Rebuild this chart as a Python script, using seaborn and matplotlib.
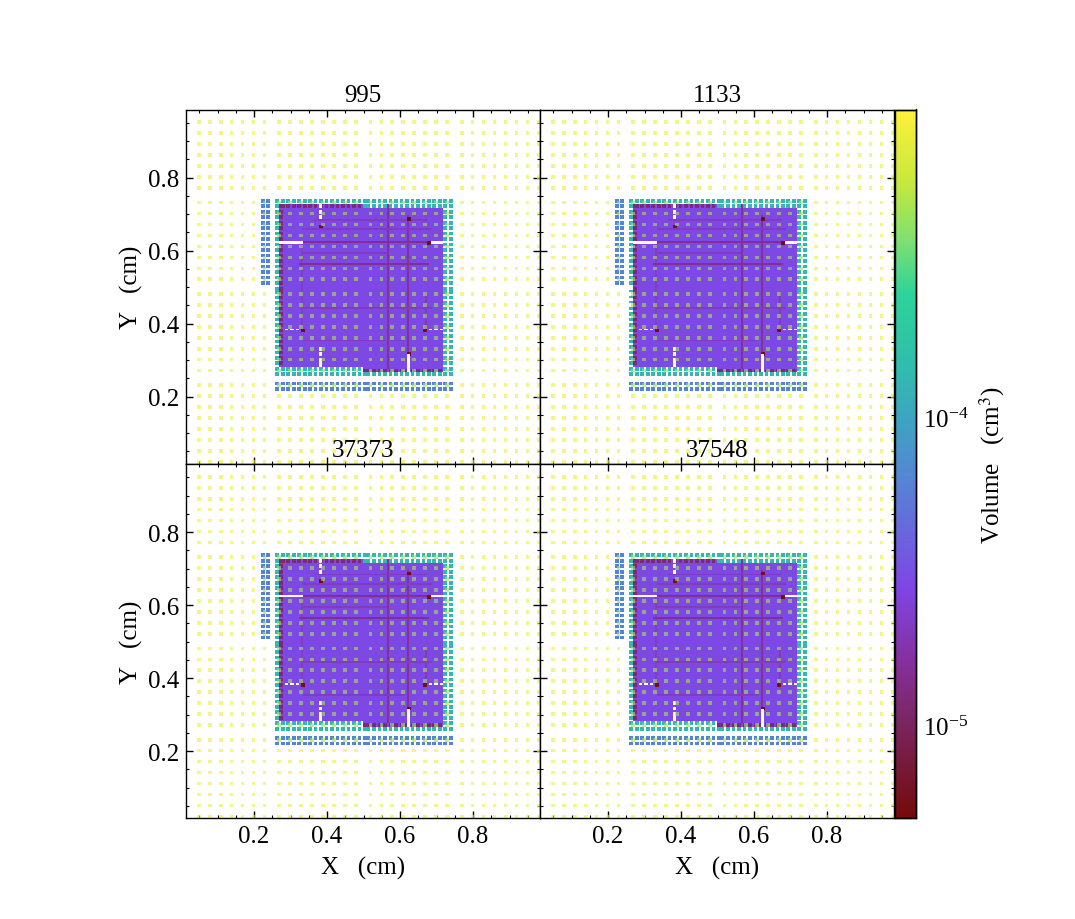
#!/usr/bin/env python3

import numpy as np
import matplotlib
matplotlib.use("Agg")
import matplotlib.pyplot as plt
from matplotlib.colors import LinearSegmentedColormap, LogNorm
from matplotlib.ticker import NullFormatter
import seaborn as sns

# positions below are in mesh units of 0.005 cm, rows counted from the top.
# the drawn grid is twice as fine so that the small cells keep their real size
n_cells = 194
sub = 2
cell_cm = 0.005
x_low = 0.0137
y_high = 0.9863

panel_titles = ["995", "1133", "37373", "37548"]
major_ticks = [0.2, 0.4, 0.6, 0.8]
minor_ticks = [0.05, 0.1, 0.15, 0.25, 0.3, 0.35, 0.45, 0.5, 0.55, 0.65, 0.7, 0.75, 0.85, 0.9, 0.95]
cbar_major = [1e-5, 1e-4]
cbar_minor = [6e-6, 7e-6, 8e-6, 9e-6, 2e-5, 3e-5, 4e-5, 5e-5, 6e-5, 7e-5, 8e-5, 9e-5,
              2e-4, 3e-4, 4e-4, 5e-4, 6e-4, 7e-4, 8e-4, 9e-4]

# large cells that show up as dots everywhere in the domain
dot_cells = [6, 12, 18, 24, 30, 36, 42, 50, 56, 62, 68, 74, 80, 86, 92,
             100, 106, 112, 118, 124, 130, 136, 142, 150, 156, 162, 168, 174, 180, 186, 192]
# refinement ring around the block
ring_cells = [49, 52, 55, 58, 61, 64, 67, 70, 73, 76, 79, 82, 85, 88, 91, 94, 97,
              99, 102, 105, 108, 111, 114, 117, 120, 123, 126, 129, 132, 135, 138, 141, 144]
ring_lines = [49, 52, 141, 144]
strip_cols = [41, 44]
strip_rows = [49, 52, 55, 58, 61, 64, 67, 70, 73, 76, 79, 82, 85, 88, 91, 94]
under_rows = [149, 152]

dot_outer = 8.5e-4
dot_inner = 4.6e-4
ring_vol = 1.3e-4
strip_vol = 6.2e-5
block_vol = 2.9e-5
edge_vol = 1.2e-5
spot_vol = 5.5e-6

# (first row, last row, first col, last col)
block_boxes = [(54, 141, 53, 141), (52, 54, 51, 97), (54, 141, 51, 53), (141, 144, 97, 141)]

# (col, first row, last row, volume)
vlines = [(110, 52, 142, 1.6e-5), (121, 58, 134, 1.6e-5), (131, 100, 121, 2e-5), (63, 72, 120, 2.2e-5)]
# (row, first col, last col, volume)
hlines = [(72, 63, 133, 1.5e-5), (84, 62, 133, 1.5e-5), (60, 70, 132, 2.1e-5), (65, 64, 135, 2.1e-5),
          (78, 64, 110, 2.1e-5), (108, 64, 135, 2.1e-5), (126, 64, 120, 2.1e-5)]
spots = [(59, 121), (72, 132), (133, 121), (120, 63), (120, 130), (63, 73)]

# white slits, same layout as the block boxes
slits_top = [(72, 73.5, 51, 64), (72, 73.5, 134, 141)]
slits_bottom = [(72, 73, 51, 64), (72, 73, 134, 141)]
slits_common = [(134, 144, 121, 122.5)]
slit_dashes = [(52, 54, 73, 74.5), (55, 57, 73, 74.5), (58, 60, 73, 74.5),
               (120, 121, 54, 56), (120, 121, 57, 59), (120, 121, 60, 62),
               (120, 121, 133, 135), (120, 121, 136, 138), (120, 121, 139, 141),
               (130, 132, 73, 74.5), (133, 135, 73, 74.5), (136, 141, 73, 74.5)]
notch_rows = [97, 100, 103, 106]

cmap_stops = [0.0, 0.133, 0.224, 0.323, 0.478, 0.567, 0.633, 0.74, 0.817, 0.90, 1.0]
cmap_colors = ["#730a0a", "#7a2560", "#8530a0", "#7f45e5", "#5585d5", "#3da5c0",
               "#30bcae", "#2cd39a", "#80e070", "#c8e83c", "#fff03c"]


def fill(cells, box, value):
    r0, r1, c0, c1 = [int(b * sub) for b in box]
    cells[r0:r1, c0:c1] = value


def square(cells, r, c, value, width=4):
    cells[r * sub:r * sub + width, c * sub:c * sub + width] = value


def build_cells(slits, notch):
    cells = np.full((n_cells * sub, n_cells * sub), np.nan)
    for c in ring_cells:
        for r in ring_lines:
            square(cells, r, c, ring_vol)
            square(cells, c, r, ring_vol)
    for c in strip_cols:
        for r in strip_rows:
            square(cells, r, c, strip_vol)
    for r in under_rows:
        for c in ring_cells:
            square(cells, r, c, strip_vol)
    for box in block_boxes:
        fill(cells, box, block_vol)
    # dark dashes along the block edge, the ring cells show between them
    for c in ring_cells:
        if 52 <= c < 96:
            square(cells, 52, c, edge_vol)
        if 97 <= c < 140:
            square(cells, 142, c, edge_vol)
    for r in ring_cells:
        if 52 <= r < 141:
            square(cells, r, 51, edge_vol)
            square(cells, r, 49, ring_vol)
    for r in notch:
        square(cells, r, 49, np.nan)
    for c, r0, r1, v in vlines:
        fill(cells, (r0, r1, c, c + 1), v)
    for r, c0, c1, v in hlines:
        fill(cells, (r, r + 1, c0, c1), v)
    for r, c in spots:
        square(cells, r, c, spot_vol)
    for box in slits + slits_common + slit_dashes:
        fill(cells, box, np.nan)
    return cells


def build_dots(cells):
    dots = np.full(cells.shape, np.nan)
    for r in dot_cells:
        for c in dot_cells:
            inside = np.isfinite(cells[r * sub:r * sub + 4, c * sub:c * sub + 4]).any()
            square(dots, r, c, dot_inner if inside else dot_outer)
    return dots


def x_index(v):
    return (v - x_low) / cell_cm * sub


def y_index(v):
    return (y_high - v) / cell_cm * sub


sns.set_style("ticks")
plt.rcParams["font.family"] = ["Liberation Serif", "DejaVu Serif"]
plt.rcParams["mathtext.fontset"] = "stix"
plt.rcParams["text.color"] = "black"
plt.rcParams["axes.labelcolor"] = "black"
plt.rcParams["xtick.labelcolor"] = "black"
plt.rcParams["ytick.labelcolor"] = "black"

W, H = 1075, 920
fig = plt.figure(figsize=(W / 100, H / 100), dpi=100)
cmap = LinearSegmentedColormap.from_list("volume", list(zip(cmap_stops, cmap_colors)), N=512)
norm = LogNorm(vmin=5e-6, vmax=1e-3)

lefts = [186, 540, 186, 540]
tops = [110.5, 110.5, 465, 465]
size = 354.2
cax = fig.add_axes([895 / W, 1 - 819 / H, 21 / W, 708.5 / H])

for k, title in enumerate(panel_titles):
    ax = fig.add_axes([lefts[k] / W, 1 - (tops[k] + size) / H, size / W, size / H])
    slits = slits_top if k < 2 else slits_bottom
    cells = build_cells(slits, notch_rows if k == 1 else [])
    sns.heatmap(cells, ax=ax, cmap=cmap, norm=norm, xticklabels=False, yticklabels=False,
                cbar=k == 0, cbar_ax=cax if k == 0 else None,
                cbar_kws={"label": "Volume   (cm$^3$)"}, mask=np.isnan(cells))
    dots = build_dots(cells)
    sns.heatmap(dots, ax=ax, cmap=cmap, norm=norm, xticklabels=False, yticklabels=False,
                cbar=False, mask=np.isnan(dots), alpha=0.62)
    ax.set_xticks([x_index(v) for v in major_ticks])
    ax.set_yticks([y_index(v) for v in major_ticks])
    ax.set_xticks([x_index(v) for v in minor_ticks], minor=True)
    ax.set_yticks([y_index(v) for v in minor_ticks], minor=True)
    ax.tick_params(which="both", direction="in", top=True, right=True, bottom=True, left=True, color="black")
    ax.tick_params(which="major", length=5, width=1, labelsize=18)
    ax.tick_params(which="minor", length=2.5, width=0.8)
    ax.tick_params(axis="x", which="major", pad=5)
    ax.tick_params(axis="y", which="major", pad=4.5)
    if k >= 2:
        ax.set_xticklabels([f"{v:.1f}" for v in major_ticks])
        ax.set_xlabel("X   (cm)", fontsize=18, labelpad=6)
    else:
        ax.set_xticklabels([])
    if k % 2 == 0:
        ax.set_yticklabels([f"{v:.1f}" for v in major_ticks])
        ax.set_ylabel("Y   (cm)", fontsize=18, labelpad=4)
    else:
        ax.set_yticklabels([])
    ax.set_title(title, fontsize=18, pad=6)
    for spine in ax.spines.values():
        spine.set_visible(True)
        spine.set_color("black")
        spine.set_linewidth(1)

cax.set_yticks(cbar_major)
cax.set_yticks(cbar_minor, minor=True)
cax.yaxis.set_minor_formatter(NullFormatter())
cax.tick_params(which="both", direction="in", right=True, left=False, color="black", labelsize=18)
cax.tick_params(which="major", length=5, width=1, pad=5)
cax.tick_params(which="minor", length=3, width=0.8)
cax.yaxis.label.set_size(18)
cax.yaxis.labelpad = 6
for name, spine in cax.spines.items():
    spine.set_visible(name != "left")
    spine.set_color("black")
    spine.set_linewidth(1)

fig.savefig("out.png", dpi=100)
